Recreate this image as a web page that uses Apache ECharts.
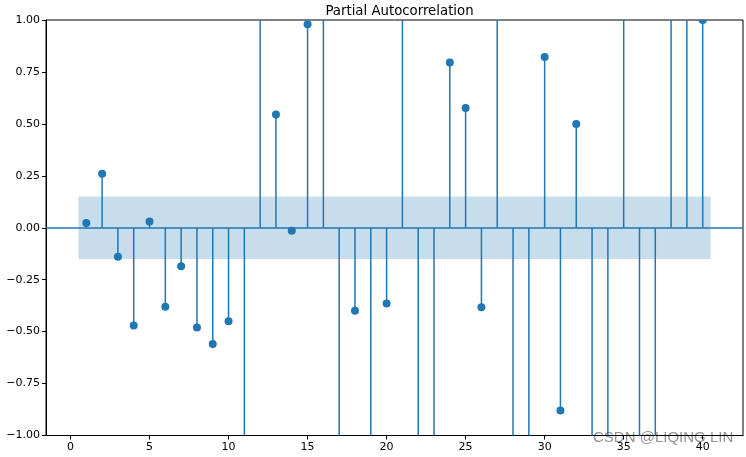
<!DOCTYPE html>
<html>
<head>
<meta charset="utf-8">
<script src="https://cdn.jsdelivr.net/npm/echarts@6/dist/echarts.min.js"></script>
<style>html,body{margin:0;padding:0;background:#fff}#c{width:746px;height:457px}</style>
</head>
<body>
<div id="c"></div>
<script>
// Lags 1..40 (zero lag not shown)
const lags = [1,2,3,4,5,6,7,8,9,10,11,12,13,14,15,16,17,18,19,20,21,22,23,24,25,26,27,28,29,30,31,32,33,34,35,36,37,38,39,40];
// PACF values (values beyond +/-1 are clipped in the reference)
const pacf = [0.023,0.26,-0.14,-0.47,0.03,-0.38,-0.185,-0.48,-0.56,-0.45,
              -1.4,1.4,0.545,-0.015,0.98,1.4,-1.4,-0.40,-1.4,-0.365,
              1.4,-1.4,-1.4,0.795,0.576,-0.383,1.4,-1.4,-1.4,0.822,
              -0.88,0.50,-1.4,-1.4,1.4,-1.4,-1.4,1.4,1.4,1.0];
const confHalf = 0.151;          // 95% confidence band half-width
const bandStart = 0.5, bandEnd = 40.5;
const xTicks = [0,5,10,15,20,25,30,35,40];
const titleText = 'Partial Autocorrelation';
const watermark = 'CSDN @LIQING LIN';

const C0 = '#1f77b4';
const chart = echarts.init(document.getElementById('c'), null, {renderer:'canvas'});
const fmtY = v => (v < 0 ? '\u2212' : '') + Math.abs(v).toFixed(2);

chart.setOption({
  animation:false,
  backgroundColor:'#fff',
  title:{text:titleText,left:394.5,textAlign:'center',top:0,
    textStyle:{fontFamily:'DejaVu Sans',fontSize:13.3,fontWeight:'normal',color:'#000'}},
  grid:{left:46,right:3,top:20,bottom:21.5,show:true,borderColor:'#000',borderWidth:1,backgroundColor:'transparent'},
  xAxis:{type:'value',min:-1.55,max:42.55,
    axisLine:{show:true,onZero:false,lineStyle:{color:'#000',width:1}},
    splitLine:{show:false},
    axisTick:{show:true,length:4,customValues:xTicks,lineStyle:{color:'#000'}},
    axisLabel:{customValues:xTicks,fontFamily:'DejaVu Sans',fontSize:11,color:'#000',margin:6}},
  yAxis:{type:'value',min:-1,max:1,interval:0.25,
    axisLine:{show:true,onZero:false,lineStyle:{color:'#000',width:1}},
    splitLine:{show:false},
    axisTick:{show:true,length:4,lineStyle:{color:'#000'}},
    axisLabel:{fontFamily:'DejaVu Sans',fontSize:11,color:'#000',margin:6,formatter:fmtY}},
  series:[
    {type:'line',data:[],silent:true,
      markArea:{silent:true,itemStyle:{color:'rgba(31,119,180,0.25)'},
        data:[[{coord:[bandStart,-confHalf]},{coord:[bandEnd,confHalf]}]]},
      markLine:{silent:true,symbol:'none',label:{show:false},
        lineStyle:{color:C0,width:1.5,type:'solid'},data:[{yAxis:0}]}},
    {type:'custom',clip:true,silent:true,
      data:lags.map((l,i)=>[l,pacf[i]]),
      encode:{x:0,y:1},
      renderItem:function(params,api){
        const p0 = api.coord([api.value(0),0]);
        const p1 = api.coord([api.value(0),api.value(1)]);
        return {type:'group',children:[
          {type:'line',shape:{x1:p0[0],y1:p0[1],x2:p1[0],y2:p1[1]},
            style:{stroke:C0,lineWidth:1.5}},
          {type:'circle',shape:{cx:p1[0],cy:p1[1],r:4},style:{fill:C0}}
        ]};
      }}
  ],
  graphic:[{type:'text',left:593,top:430,silent:true,
    style:{text:watermark,fontFamily:'Liberation Sans',fontSize:15,fill:'rgba(110,110,110,0.75)'}}]
});
</script>
</body>
</html>
